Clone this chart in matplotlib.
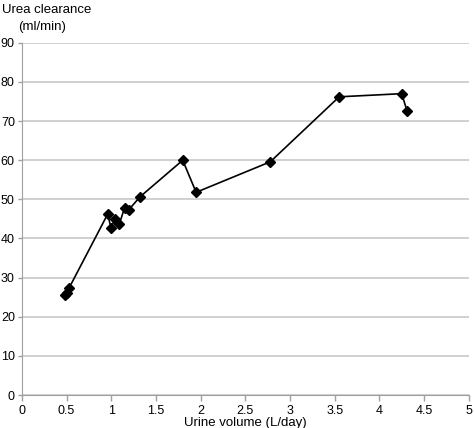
import matplotlib.pyplot as plt

plt.rcParams["font.family"] = ["Liberation Sans", "DejaVu Sans"]

urine_volume = [0.48, 0.50, 0.53, 0.96, 1.00, 1.04, 1.09, 1.15, 1.20, 1.32,
                1.80, 1.95, 2.78, 3.55, 4.25, 4.31]
urea_clearance = [25.6, 26.1, 27.4, 46.2, 42.6, 45.1, 43.6, 47.9, 47.4, 50.6,
                  60.0, 51.8, 59.6, 76.2, 77.0, 72.5]
xticks = [0, 0.5, 1, 1.5, 2, 2.5, 3, 3.5, 4, 4.5, 5]
xtick_labels = ["0", "0.5", "1", "1.5", "2", "2.5", "3", "3.5", "4", "4.5", "5"]
yticks = [0, 10, 20, 30, 40, 50, 60, 70, 80, 90]

fig = plt.figure(figsize=(4.74, 4.28), dpi=100)
ax = fig.add_axes([0.046, 0.077, 0.943, 0.823])

ax.plot(urine_volume, urea_clearance, color="black", lw=1.2,
        marker="D", ms=5.5, mfc="black", mec="black", zorder=3)

ax.set_xlim(0, 5)
ax.set_ylim(0, 90)
ax.set_xticks(xticks)
ax.set_xticklabels(xtick_labels)
ax.set_yticks(yticks)
ax.yaxis.grid(True, color="#c8c8c8", lw=1.2)
ax.set_axisbelow(True)
for side in ["top", "right"]:
    ax.spines[side].set_visible(False)
for side in ["left", "bottom"]:
    ax.spines[side].set_color("#a0a0a0")
ax.tick_params(axis="both", colors="#a0a0a0", labelcolor="black",
               labelsize=9, width=1)
ax.tick_params(axis="x", length=4, pad=3)
ax.tick_params(axis="y", length=3, pad=2)

ax.set_xlabel("Urine volume (L/day)", fontsize=9.5, labelpad=0)
fig.text(0.005, 0.99, "Urea clearance", fontsize=9.5, ha="left", va="top")
fig.text(0.038, 0.95, "(ml/min)", fontsize=9.5, ha="left", va="top")

fig.savefig("out.png", dpi=100)
